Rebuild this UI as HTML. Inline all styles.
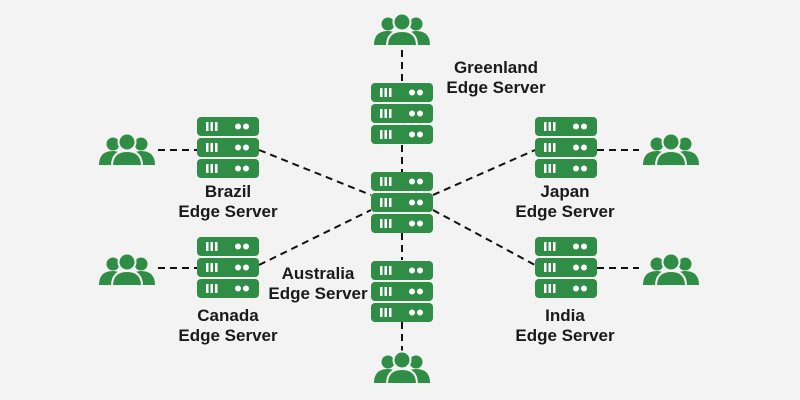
<!DOCTYPE html>
<html><head><meta charset="utf-8"><style>
html,body{margin:0;padding:0;background:#f3f3f3;}
svg{display:block}
text{font-family:"Liberation Sans",sans-serif;font-size:17px;font-weight:600;fill:#1a1a1a;text-anchor:middle}
</style></head><body>
<svg width="800" height="400" viewBox="0 0 800 400">
<defs>
<g id="u">
<rect x="0" y="0" width="62" height="19" rx="4" fill="#2f8d46"/>
<rect x="9" y="5" width="2.5" height="9" fill="#fff"/>
<rect x="13.5" y="5" width="2.5" height="9" fill="#fff"/>
<rect x="18" y="5" width="2.5" height="9" fill="#fff"/>
<circle cx="41" cy="9.5" r="3" fill="#fff"/>
<circle cx="49" cy="9.5" r="3" fill="#fff"/>
</g>
<g id="s"><use href="#u"/><use href="#u" y="21"/><use href="#u" y="42"/></g>
<g id="p" fill="#2f8d46">
<circle cx="-14" cy="-6" r="6.5"/>
<circle cx="14" cy="-6" r="6.5"/>
<path d="M-28 15 Q-28 1 -14 1 Q-6 1 -4 8 L-4 15 Z"/>
<path d="M28 15 Q28 1 14 1 Q6 1 4 8 L4 15 Z"/>
<circle cx="0" cy="-8" r="8.5" fill="#2f8d46" stroke="#f3f3f3" stroke-width="2"/>
<path d="M-15 16 Q-15 1 0 1 Q15 1 15 16 Z" stroke="#f3f3f3" stroke-width="2"/>
</g>
</defs>
<g stroke="#111" stroke-width="2" stroke-dasharray="7,5" fill="none">
<line x1="402" y1="50" x2="402" y2="83"/>
<line x1="402" y1="145" x2="402" y2="172"/>
<line x1="402" y1="233" x2="402" y2="260"/>
<line x1="402" y1="322" x2="402" y2="352"/>
<line x1="259" y1="150" x2="371" y2="195"/>
<line x1="259" y1="265" x2="371" y2="210"/>
<line x1="433" y1="195" x2="535" y2="150"/>
<line x1="433" y1="210" x2="535" y2="265"/>
<line x1="158" y1="150" x2="197" y2="150"/>
<line x1="158" y1="268" x2="197" y2="268"/>
<line x1="597" y1="150" x2="639" y2="150"/>
<line x1="597" y1="268" x2="639" y2="268"/>
</g>
<use href="#s" x="371" y="83"/>
<use href="#s" x="371" y="172"/>
<use href="#s" x="371" y="261"/>
<use href="#s" x="197" y="117"/>
<use href="#s" x="197" y="237"/>
<use href="#s" x="535" y="117"/>
<use href="#s" x="535" y="237"/>
<use href="#p" x="402" y="30"/>
<use href="#p" x="402" y="368"/>
<use href="#p" x="127" y="150"/>
<use href="#p" x="127" y="270"/>
<use href="#p" x="671" y="150"/>
<use href="#p" x="671" y="270"/>
<text x="496" y="73">Greenland</text><text x="496" y="93">Edge Server</text>
<text x="228" y="197">Brazil</text><text x="228" y="217">Edge Server</text>
<text x="318" y="279">Australia</text><text x="318" y="299">Edge Server</text>
<text x="228" y="321">Canada</text><text x="228" y="341">Edge Server</text>
<text x="565" y="197">Japan</text><text x="565" y="217">Edge Server</text>
<text x="565" y="321">India</text><text x="565" y="341">Edge Server</text>
</svg>
</body></html>
